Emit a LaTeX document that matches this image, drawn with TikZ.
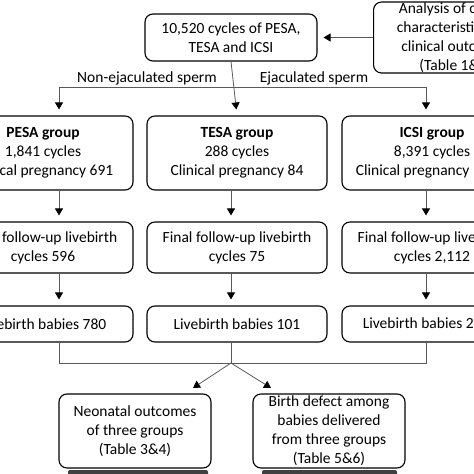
\documentclass[tikz,border=0pt]{standalone}
\usepackage{fontspec}
\setmainfont{Carlito}
\usetikzlibrary{arrows.meta}
\begin{document}
\begin{tikzpicture}[x=1pt,y=-1pt,
  box/.style={draw=black,line width=1.1pt,rounded corners=8pt,align=center,inner sep=0pt,font=\fontsize{15.5}{19}\selectfont},
  conn/.style={draw=black!65,line width=0.8pt},
  arr/.style={conn,-{Triangle[width=8pt,length=7pt,fill=black,color=black]},shorten >=6pt},
  lbl/.style={font=\fontsize{15.5}{19}\selectfont,inner sep=0pt}]
\useasboundingbox (0,0) rectangle (474,474);
\clip (0,0) rectangle (474,474);
% nodes
\node[box,minimum width=172pt,minimum height=47pt] (top) at (231,37.5) {10,520 cycles of PESA,\\TESA and ICSI};
\node[box,minimum width=164pt,minimum height=71pt,anchor=west] (ana) at (373,37.5) {Analysis of clinical\\characteristics and\\clinical outcomes\\(Table 1\&2)};
\node[box,minimum width=180pt,minimum height=74pt] (p1) at (43,153) {\textbf{PESA group}\\1,841 cycles\\Clinical pregnancy 691};
\node[box,minimum width=180pt,minimum height=74pt] (t1) at (237,153) {\textbf{TESA group}\\288 cycles\\Clinical pregnancy 84};
\node[box,minimum width=180pt,minimum height=74pt] (i1) at (432,153) {\textbf{ICSI group}\\8,391 cycles\\Clinical pregnancy 1,512};
\node[box,minimum width=180pt,minimum height=51pt] (p2) at (43,247.5) {Final follow-up livebirth\\cycles 596};
\node[box,minimum width=180pt,minimum height=51pt] (t2) at (237,247.5) {Final follow-up livebirth\\cycles 75};
\node[box,minimum width=180pt,minimum height=51pt] (i2) at (432,247.5) {Final follow-up livebirth\\cycles 2,112};
\node[box,minimum width=180pt,minimum height=36pt] (p3) at (43,324) {Livebirth babies 780};
\node[box,minimum width=180pt,minimum height=36pt] (t3) at (237,324) {Livebirth babies 101};
\node[box,minimum width=180pt,minimum height=36pt] (i3) at (432,324) {Livebirth babies 2,452};
\node[box,minimum width=152pt,minimum height=74pt] (bl) at (135,431) {Neonatal outcomes\\of three groups\\(Table 3\&4)};
\node[box,minimum width=152pt,minimum height=74pt] (br) at (329,431) {Birth defect among\\babies delivered\\from three groups\\(Table 5\&6)};
% dark strips at bottom edge
\fill[black!75,rounded corners=2pt] (68,470) rectangle (208,478);
\fill[black!75,rounded corners=2pt] (262,470) rectangle (397,478);
% labels
\node[lbl] (ln) at (147,78) {Non-ejaculated sperm};
\node[lbl] (le) at (314,78) {Ejaculated sperm};
% coordinates
\coordinate (cp) at (59,87);
\coordinate (ct) at (231,87);
\coordinate (ci) at (426,87);
\coordinate (jp) at (59,363);
\coordinate (jt) at (231,363);
\coordinate (ji) at (426,363);
\coordinate (dl) at (193,388);
\coordinate (dr) at (271,388);
% connectors
\draw[arr] (ana.west) -- (top.east);
\draw[conn] (cp) -- (ci);
\draw[arr] (top.south) -- (t1.north);
\draw[arr] (cp) -- (cp |- p1.north);
\draw[arr] (ci) -- (ci |- i1.north);
\draw[arr] (cp |- p1.south) -- (cp |- p2.north);
\draw[arr] (ct |- t1.south) -- (ct |- t2.north);
\draw[arr] (ci |- i1.south) -- (ci |- i2.north);
\draw[arr] (cp |- p2.south) -- (cp |- p3.north);
\draw[arr] (ct |- t2.south) -- (ct |- t3.north);
\draw[arr] (ci |- i2.south) -- (ci |- i3.north);
\draw[conn] (cp |- p3.south) -- (jp) -- (ji) -- (ci |- i3.south);
\draw[conn] (ct |- t3.south) -- (jt);
\draw[arr,shorten >=0pt] (jt) -- (dl);
\draw[arr,shorten >=0pt] (jt) -- (dr);
\end{tikzpicture}
\end{document}
